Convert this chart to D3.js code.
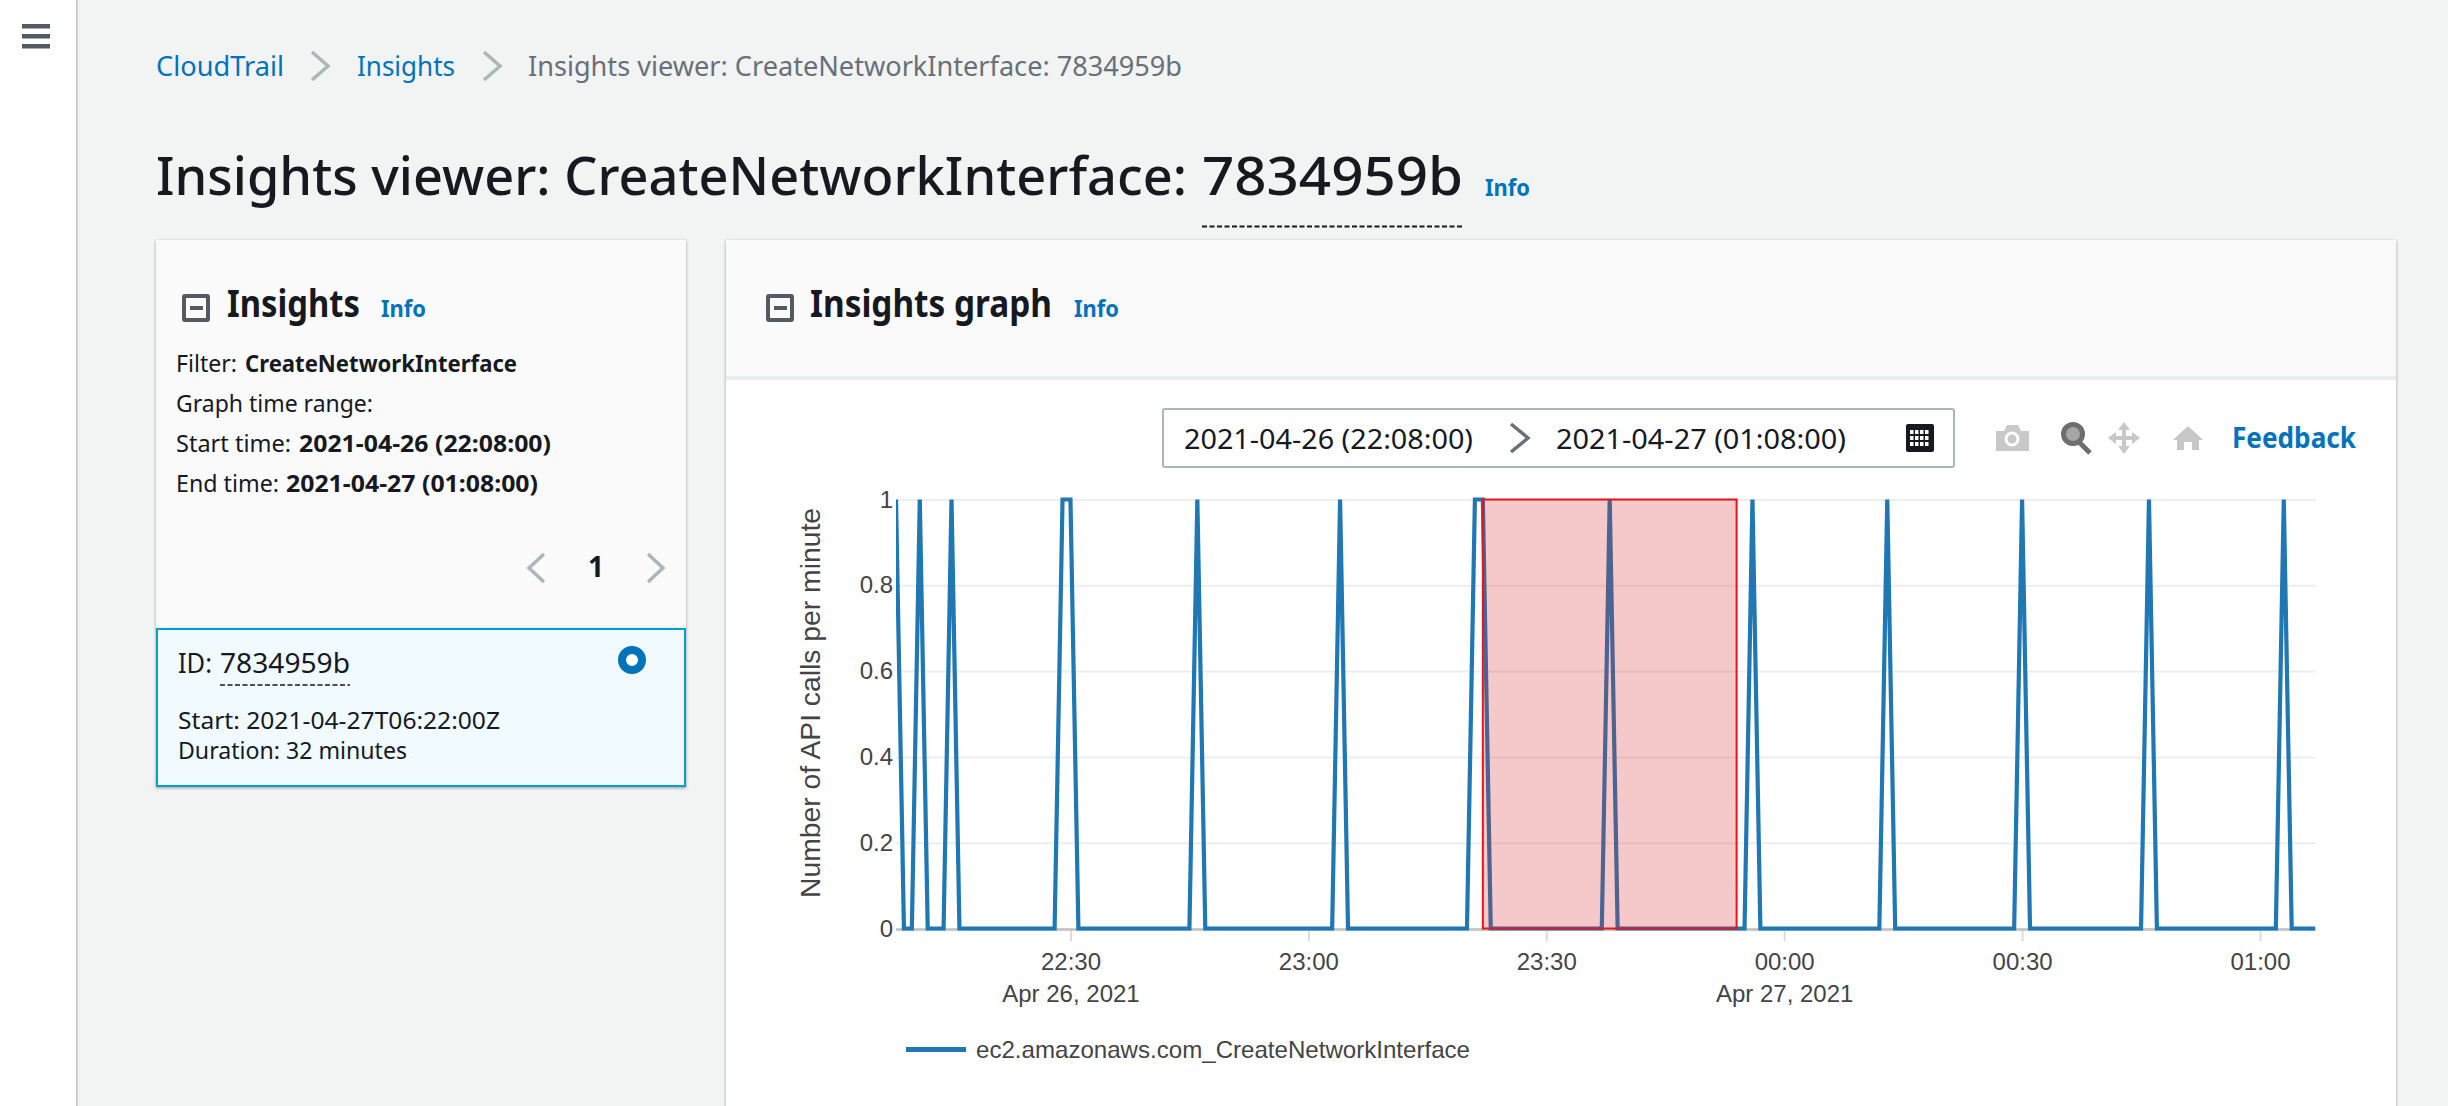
<!DOCTYPE html>
<html>
<head>
<meta charset="utf-8">
<title>Insights viewer</title>
<script src="https://cdn.jsdelivr.net/npm/d3@7"></script>
<style>
  html, body { margin: 0; padding: 0; background: #f2f3f3; overflow: hidden; }
  svg { display: block; }
  text { font-family: "Noto Sans", sans-serif; }
  .plot text { font-family: "Liberation Sans", sans-serif; fill: #444; }
</style>
</head>
<body>
<div id="page"></div>
<script>
// one value per minute, starting at 22:08
const startMinute = '2021-04-26 22:08';
const endMinute = '2021-04-27 01:07';
const apiCalls = [
  1, 0, 0, 1, 0, 0, 0, 1, 0, 0,
  0, 0, 0, 0, 0, 0, 0, 0, 0, 0,
  0, 1, 1, 0, 0, 0, 0, 0, 0, 0,
  0, 0, 0, 0, 0, 0, 0, 0, 1, 0,
  0, 0, 0, 0, 0, 0, 0, 0, 0, 0,
  0, 0, 0, 0, 0, 0, 1, 0, 0, 0,
  0, 0, 0, 0, 0, 0, 0, 0, 0, 0,
  0, 0, 0, 1, 1, 0, 0, 0, 0, 0,
  0, 0, 0, 0, 0, 0, 0, 0, 0, 0,
  1, 0, 0, 0, 0, 0, 0, 0, 0, 0,
  0, 0, 0, 0, 0, 0, 0, 0, 1, 0,
  0, 0, 0, 0, 0, 0, 0, 0, 0, 0,
  0, 0, 0, 0, 0, 1, 0, 0, 0, 0,
  0, 0, 0, 0, 0, 0, 0, 0, 0, 0,
  0, 0, 1, 0, 0, 0, 0, 0, 0, 0,
  0, 0, 0, 0, 0, 0, 0, 0, 1, 0,
  0, 0, 0, 0, 0, 0, 0, 0, 0, 0,
  0, 0, 0, 0, 0, 1, 0, 0, 0, 0
];
const insightWindow = ['2021-04-26 23:22', '2021-04-26 23:54'];
const xTickTimes = ['2021-04-26 22:30', '2021-04-26 23:00', '2021-04-26 23:30', '2021-04-27 00:00', '2021-04-27 00:30', '2021-04-27 01:00'];
const xDateLabels = ['Apr 26, 2021', '', '', 'Apr 27, 2021', '', ''];
const yTicks = [0, 0.2, 0.4, 0.6, 0.8, 1];
const seriesName = 'ec2.amazonaws.com_CreateNetworkInterface';

const parseTime = d3.timeParse('%Y-%m-%d %H:%M');
const start = parseTime(startMinute);
const points = apiCalls.map((v, i) => ({ t: d3.timeMinute.offset(start, i), v: v }));

const svg = d3.select('#page').append('svg').attr('width', 2448).attr('height', 1106);

const blue = '#0073bb', ink = '#16191f', grey = '#545b64', soft = '#aab7b8';

// text helper, w squeezes the string to the width it has in the screenshot
function label(parent, str, x, y, size, opts) {
  opts = opts || {};
  const t = parent.append('text')
    .attr('x', x).attr('y', y)
    .attr('font-size', size)
    .attr('font-weight', opts.bold ? 700 : (opts.weight || 400))
    .attr('fill', opts.fill || ink)
    .text(str);
  if (opts.w) t.attr('textLength', opts.w).attr('lengthAdjust', 'spacingAndGlyphs');
  return t;
}

function chevron(parent, x0, x1, y0, y1, color, width, left) {
  const tip = left ? x0 : x1, back = left ? x1 : x0;
  parent.append('path')
    .attr('d', `M${back},${y0}L${tip},${(y0 + y1) / 2}L${back},${y1}`)
    .attr('fill', 'none').attr('stroke', color).attr('stroke-width', width);
}

function collapseIcon(parent, x, y) {
  parent.append('rect').attr('x', x + 2).attr('y', y + 2).attr('width', 24).attr('height', 24)
    .attr('fill', 'none').attr('stroke', grey).attr('stroke-width', 4).attr('rx', 1);
  parent.append('rect').attr('x', x + 8).attr('y', y + 12).attr('width', 13).attr('height', 4).attr('fill', grey);
}

function shadowRect(x, y, w, h, fill) {
  return svg.append('rect').attr('x', x).attr('y', y).attr('width', w).attr('height', h)
    .attr('fill', fill).style('filter', 'drop-shadow(0 1px 1.5px rgba(0,28,36,.4))');
}

// sidebar
svg.append('rect').attr('width', 2448).attr('height', 1106).attr('fill', '#f2f3f3');
svg.append('rect').attr('width', 76).attr('height', 1106).attr('fill', '#fff');
svg.append('rect').attr('x', 76).attr('width', 2).attr('height', 1106).attr('fill', '#c9cdcd');
[24, 34, 44].forEach(y => svg.append('rect').attr('x', 22).attr('y', y).attr('width', 28).attr('height', 4.5).attr('fill', grey));

// breadcrumb and title
label(svg, 'CloudTrail', 156, 76, 28, { fill: blue, w: 128 });
chevron(svg, 312, 328, 52, 80, soft, 3.5);
label(svg, 'Insights', 357, 76, 28, { fill: blue, w: 98 });
chevron(svg, 484, 500, 52, 80, soft, 3.5);
label(svg, 'Insights viewer: CreateNetworkInterface: 7834959b', 528, 76, 28, { fill: '#687078', w: 654 });

label(svg, 'Insights viewer: CreateNetworkInterface:', 156, 195, 53, { w: 1031, weight: 500 });
label(svg, '7834959b', 1202, 195, 53, { w: 261, weight: 500 });
svg.append('line').attr('x1', 1202).attr('x2', 1463).attr('y1', 226.5).attr('y2', 226.5)
  .attr('stroke', ink).attr('stroke-width', 2).attr('stroke-dasharray', '5 2.5');
label(svg, 'Info', 1485, 196, 24, { fill: blue, bold: true, w: 45 });

// left panel
shadowRect(156, 240, 530, 389, '#fafafa');
collapseIcon(svg, 182, 294);
label(svg, 'Insights', 227, 317, 37, { bold: true, w: 133 });
label(svg, 'Info', 381, 317, 24, { fill: blue, bold: true, w: 45 });
label(svg, 'Filter:', 176, 372, 24, { w: 61 });
label(svg, 'CreateNetworkInterface', 245, 372, 24, { bold: true, w: 272 });
label(svg, 'Graph time range:', 176, 412, 24, { w: 197 });
label(svg, 'Start time:', 176, 452, 24, { w: 115 });
label(svg, '2021-04-26 (22:08:00)', 299, 452, 24, { bold: true, w: 252 });
label(svg, 'End time:', 176, 492, 24, { w: 103 });
label(svg, '2021-04-27 (01:08:00)', 286, 492, 24, { bold: true, w: 252 });
chevron(svg, 529, 544, 554, 582, soft, 3.5, true);
label(svg, '1', 588, 577, 28, { bold: true });
chevron(svg, 648, 663, 554, 582, soft, 3.5);

// selected insight card
shadowRect(157, 629, 528, 157, '#f1faff').attr('stroke', '#00a1c9').attr('stroke-width', 2);
label(svg, 'ID:', 178, 673, 28, { w: 34 });
label(svg, '7834959b', 220, 673, 28, { w: 130 });
svg.append('line').attr('x1', 220).attr('x2', 350).attr('y1', 685).attr('y2', 685)
  .attr('stroke', ink).attr('stroke-width', 1.5).attr('stroke-dasharray', '5 2.5');
svg.append('circle').attr('cx', 632).attr('cy', 660).attr('r', 10).attr('fill', '#fff').attr('stroke', blue).attr('stroke-width', 8);
label(svg, 'Start: 2021-04-27T06:22:00Z', 178, 729, 24, { w: 322 });
label(svg, 'Duration: 32 minutes', 178, 759, 24, { w: 229 });

// right panel
shadowRect(726, 240, 1670, 900, '#fff');
svg.append('rect').attr('x', 726).attr('y', 240).attr('width', 1670).attr('height', 136).attr('fill', '#fafafa');
svg.append('rect').attr('x', 726).attr('y', 376).attr('width', 1670).attr('height', 4).attr('fill', '#eaeded');
collapseIcon(svg, 766, 294);
label(svg, 'Insights graph', 810, 317, 37, { bold: true, w: 242 });
label(svg, 'Info', 1074, 317, 24, { fill: blue, bold: true, w: 45 });

// date range box
svg.append('rect').attr('x', 1163).attr('y', 409).attr('width', 791).attr('height', 58).attr('rx', 2)
  .attr('fill', '#fff').attr('stroke', soft).attr('stroke-width', 2);
label(svg, '2021-04-26 (22:08:00)', 1184, 449, 27, { w: 289 });
chevron(svg, 1511, 1528, 424, 452, '#687078', 3.5);
label(svg, '2021-04-27 (01:08:00)', 1556, 449, 27, { w: 290 });
svg.append('rect').attr('x', 1906).attr('y', 424).attr('width', 28).attr('height', 28).attr('rx', 2).attr('fill', ink);
svg.append('g').selectAll('rect').data(d3.range(12)).join('rect')
  .attr('x', d => 1910 + (d % 4) * 5).attr('y', d => 430 + Math.floor(d / 4) * 6)
  .attr('width', 3.5).attr('height', 4).attr('fill', '#fff');

// modebar icons
svg.append('path').attr('d', 'M1996,431h8l3,-6h11l3,6h8v20h-33z').attr('fill', '#c8c8c8');
svg.append('circle').attr('cx', 2012).attr('cy', 439).attr('r', 6).attr('fill', '#c8c8c8').attr('stroke', '#fff').attr('stroke-width', 3);
svg.append('circle').attr('cx', 2073).attr('cy', 434).attr('r', 9.5).attr('fill', '#a5a5a5').attr('stroke', '#6e6e6e').attr('stroke-width', 5);
svg.append('line').attr('x1', 2080).attr('y1', 443).attr('x2', 2090).attr('y2', 453).attr('stroke', '#6e6e6e').attr('stroke-width', 5);
svg.append('path').attr('d', 'M2124,422l6,8h-4v6h6v-4l8,6l-8,6v-4h-6v6h4l-6,8l-6,-8h4v-6h-6v4l-8,-6l8,-6v4h6v-6h-4z').attr('fill', '#c8c8c8');
svg.append('path').attr('d', 'M2188,426l15,14h-4v10h-7v-8h-8v8h-7v-10h-4z').attr('fill', '#c8c8c8');
label(svg, 'Feedback', 2232, 448, 28, { fill: blue, bold: true, w: 124 });

// chart
const plot = svg.append('g').attr('class', 'plot');

const x = d3.scaleTime().domain([start, parseTime(endMinute)]).range([896, 2315.5]);
const y = d3.scaleLinear().domain([0, 1]).range([928.5, 499.5]);

const grid = plot.append('g').attr('transform', 'translate(896,0)')
  .call(d3.axisLeft(y).tickValues(yTicks.slice(1)).tickSize(-1419.5).tickFormat(''));
grid.select('.domain').remove();
grid.selectAll('line').attr('stroke', '#eeeeee').attr('stroke-width', 2);

const xAxis = plot.append('g').attr('transform', 'translate(0,928.5)')
  .call(d3.axisBottom(x).tickValues(xTickTimes.map(parseTime)).tickSize(13).tickFormat(d3.timeFormat('%H:%M')));
xAxis.select('.domain').remove();
xAxis.selectAll('line').attr('stroke', '#dddddd').attr('stroke-width', 2);
xAxis.selectAll('text').attr('font-size', 24).attr('font-family', '"Liberation Sans", sans-serif').attr('y', 32).attr('dy', 9);
xAxis.selectAll('.tick').append('text')
  .attr('fill', '#444').attr('font-size', 24).attr('font-family', '"Liberation Sans", sans-serif')
  .attr('y', 73).attr('text-anchor', 'middle')
  .text((d, i) => xDateLabels[i]);

plot.append('line').attr('x1', 896).attr('x2', 2315.5).attr('y1', y(0) + 1).attr('y2', y(0) + 1)
  .attr('stroke', '#c8c8c8').attr('stroke-width', 3);

const yAxis = plot.append('g').attr('transform', 'translate(896,0)')
  .call(d3.axisLeft(y).tickValues(yTicks).tickSize(0).tickPadding(3).tickFormat(d3.format('~g')));
yAxis.select('.domain').remove();
yAxis.selectAll('text').attr('font-size', 24).attr('font-family', '"Liberation Sans", sans-serif');

svg.append('clipPath').attr('id', 'plot-clip').append('rect')
  .attr('x', 896).attr('y', 496).attr('width', 1419.5).attr('height', 437);

plot.append('path').datum(points)
  .attr('clip-path', 'url(#plot-clip)')
  .attr('fill', 'none').attr('stroke', '#1f77b4').attr('stroke-width', 4.2)
  .attr('stroke-linejoin', 'miter')
  .attr('d', d3.line().x(d => x(d.t)).y(d => y(d.v)));

// anomaly window sits on top of the line
plot.append('rect')
  .attr('x', x(parseTime(insightWindow[0])))
  .attr('y', y(1))
  .attr('width', x(parseTime(insightWindow[1])) - x(parseTime(insightWindow[0])))
  .attr('height', y(0) - y(1))
  .attr('fill', '#d62728').attr('fill-opacity', 0.25)
  .attr('stroke', '#e8141c').attr('stroke-width', 2);

plot.append('text')
  .attr('transform', 'translate(820,703) rotate(-90)')
  .attr('text-anchor', 'middle').attr('font-size', 28.3)
  .text('Number of API calls per minute');

// legend
plot.append('line').attr('x1', 906).attr('x2', 966).attr('y1', 1049.5).attr('y2', 1049.5)
  .attr('stroke', '#1f77b4').attr('stroke-width', 5);
plot.append('text').attr('x', 976).attr('y', 1058).attr('font-size', 24)
  .attr('textLength', 494).attr('lengthAdjust', 'spacingAndGlyphs').text(seriesName);
</script>
</body>
</html>
